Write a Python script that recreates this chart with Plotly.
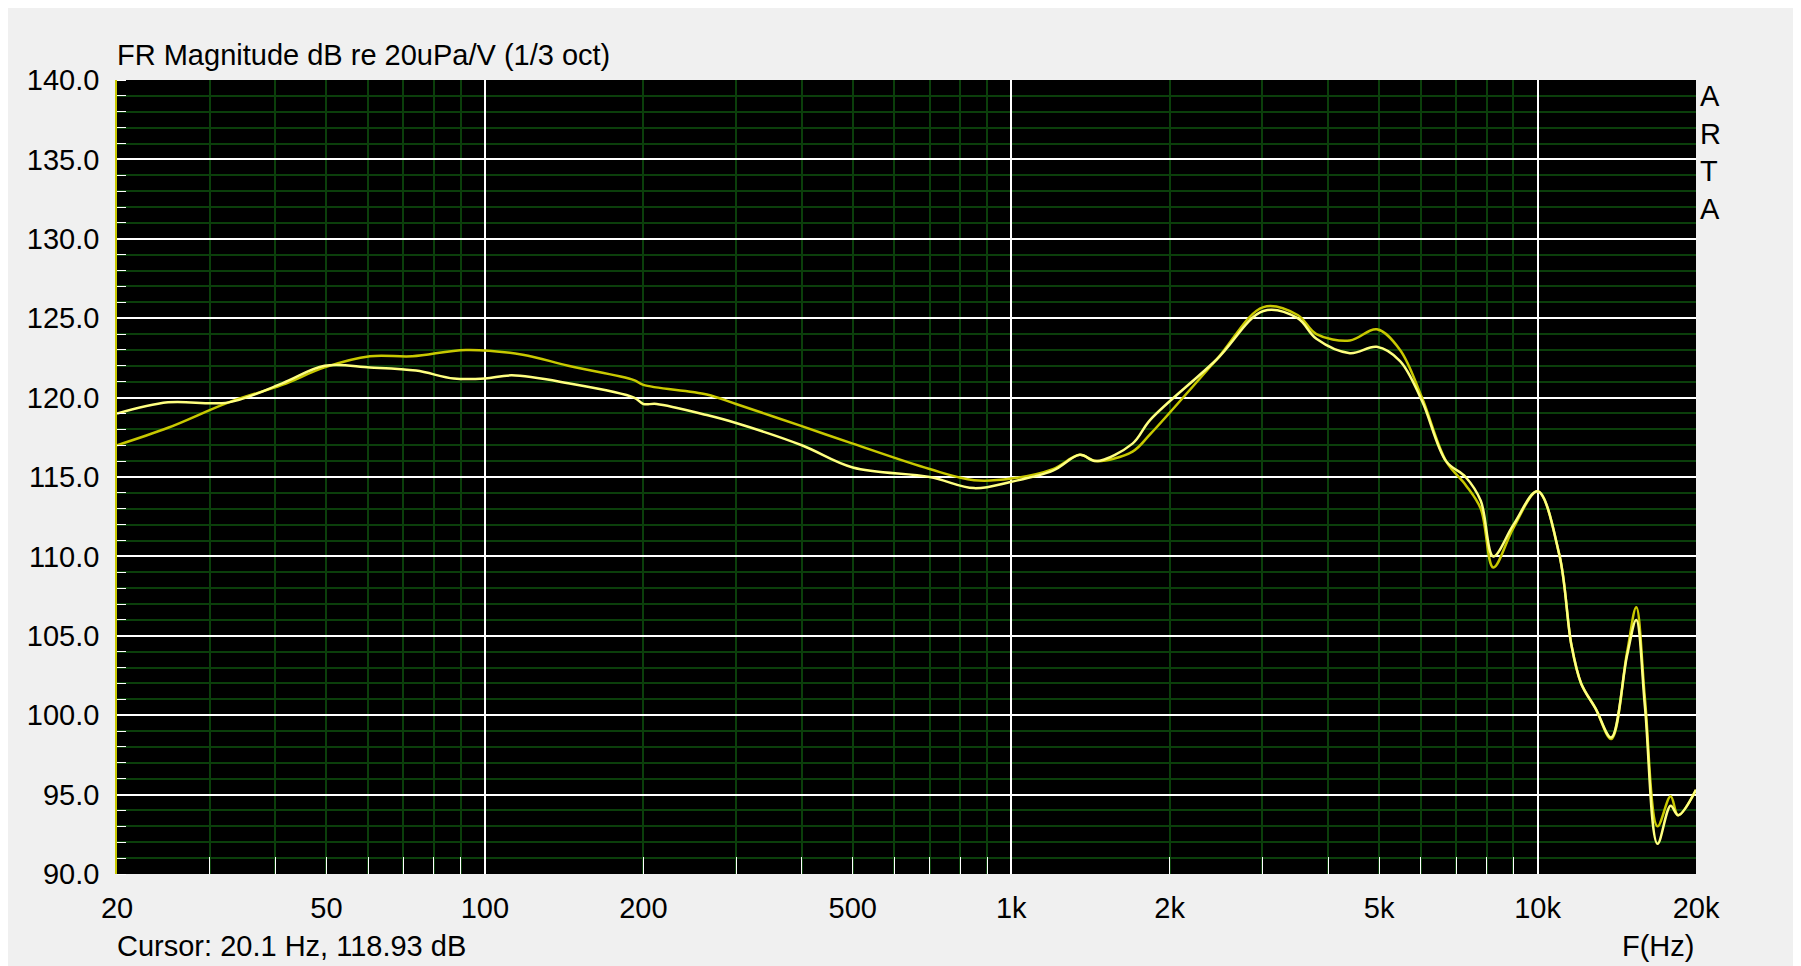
import numpy as np
import plotly.graph_objects as go

# measurement A (darker yellow)
freq_a = [20, 25, 32.6, 41.2, 49.6, 60.5, 72.8, 92, 118, 144, 192, 200, 264, 300, 400, 500,
          700, 850, 1000, 1200, 1350, 1450, 1700, 1837, 2456, 3014, 3500, 3800, 4400, 4950,
          5480, 6030, 6700, 7300, 7800, 8240, 9000, 10000, 11000, 11600, 12100, 12900, 13800,
          14800, 15400, 16000, 16900, 17900, 18500, 20000]
mag_a = [117.0, 118.1, 119.7, 120.8, 121.9, 122.6, 122.6, 123.0, 122.7, 122.0, 121.1, 120.8,
         120.2, 119.6, 118.2, 117.1, 115.5, 114.8, 114.9, 115.5, 116.4, 116.0, 116.6, 117.7,
         122.4, 125.7, 125.2, 124.0, 123.6, 124.3, 123.0, 120.0, 116.0, 114.5, 113.0, 109.3,
         111.8, 114.1, 110.1, 104.4, 102.0, 100.4, 98.5, 104.0, 106.8, 101.0, 93.0, 94.9,
         93.7, 95.3]

# measurement B (pale yellow)
freq_b = [20, 25, 32.6, 41.2, 49.6, 60.5, 74, 87.3, 100, 112.5, 144, 192, 200, 212, 264, 300,
          400, 500, 700, 850, 1000, 1200, 1350, 1450, 1700, 1837, 2456, 3014, 3500, 3800,
          4400, 4950, 5480, 6030, 6700, 7300, 7800, 8240, 9000, 10000, 11000, 11600, 12100,
          12900, 13800, 14800, 15400, 16000, 16900, 17900, 18500, 20000]
mag_b = [119.0, 119.7, 119.7, 120.9, 122.0, 121.9, 121.7, 121.2, 121.2, 121.4, 120.9, 120.0,
         119.6, 119.6, 118.9, 118.4, 117.0, 115.6, 115.0, 114.3, 114.7, 115.4, 116.4, 116.0,
         117.1, 118.6, 122.4, 125.45, 125.0, 123.7, 122.8, 123.2, 122.3, 119.8, 116.0, 115.0,
         113.5, 110.0, 112.0, 114.1, 110.1, 104.4, 102.0, 100.4, 98.6, 103.8, 106.0, 100.5,
         91.9, 94.3, 93.7, 95.3]

x_labels = [20, 50, 100, 200, 500, 1000, 2000, 5000, 10000, 20000]
x_text = ["20", "50", "100", "200", "500", "1k", "2k", "5k", "10k", "20k"]
x_decades = [10, 100, 1000, 10000]
x_digits = [2, 3, 4, 5, 6, 7, 8, 9]
y_major = list(range(90, 141, 5))

x_minor = [d * k for d in x_decades for k in x_digits if 20 < d * k < 20000]

font = dict(family="Liberation Sans, Arial, sans-serif", size=29, color="black")
green = "#0b3f0b"
xr = [np.log10(20), np.log10(20000)]

fig = go.Figure()
fig.add_trace(go.Scatter(x=freq_a, y=mag_a, mode="lines", line=dict(color="#c8c800", width=2.5, shape="spline"),
                         showlegend=False))
fig.add_trace(go.Scatter(x=freq_b, y=mag_b, mode="lines", line=dict(color="#ffff80", width=2.5, shape="spline"),
                         showlegend=False, xaxis="x2"))

ml, mr, mt, mb = 109, 113, 72, 100
fig.update_layout(
    width=1801, height=966,
    margin=dict(l=ml, r=mr, t=mt, b=mb),
    paper_bgcolor="#f0f0f0", plot_bgcolor="black",
    font=font,
    xaxis=dict(type="log", range=xr, tickvals=[100, 1000, 10000], showticklabels=False,
               gridcolor="white", gridwidth=1.5, ticks="inside", ticklen=17, tickcolor="white",
               minor=dict(tickvals=x_minor, showgrid=True, gridcolor=green, gridwidth=1.5,
                          ticks="inside", ticklen=17, tickcolor="white"),
               showline=False, zeroline=False),
    xaxis2=dict(type="log", range=xr, overlaying="x", side="bottom", tickvals=x_labels, ticktext=x_text,
                showgrid=False, ticks="", ticklabelstandoff=14, tickfont=font),
    yaxis=dict(range=[90, 140], tickvals=y_major, ticktext=[f"{v:.1f}" for v in y_major],
               gridcolor="white", gridwidth=1.5, ticks="", ticklabelstandoff=10, tickfont=font,
               minor=dict(dtick=1, showgrid=True, gridcolor=green, gridwidth=1.5,
                          ticks="inside", ticklen=9, tickcolor="white"),
               showline=True, linecolor="#c8c800", linewidth=1.5, zeroline=False),
)

pw, ph = 1801 - ml - mr, 966 - mt - mb
fig.add_annotation(text="FR Magnitude dB re 20uPa/V (1/3 oct)", x=-2 / pw, y=1 + 25 / ph,
                   xref="paper", yref="paper", showarrow=False, font=font, xanchor="left", yanchor="middle")
fig.add_annotation(text="Cursor: 20.1 Hz, 118.93 dB", x=-2 / pw, y=-72 / ph,
                   xref="paper", yref="paper", showarrow=False, font=font, xanchor="left", yanchor="middle")
fig.add_annotation(text="F(Hz)", x=1.0, y=-72 / ph,
                   xref="paper", yref="paper", showarrow=False, font=font, xanchor="right", yanchor="middle")
fig.add_annotation(text="A<br>R<br>T<br>A", x=1 + 2 / pw, y=1 + 2 / ph,
                   xref="paper", yref="paper", showarrow=False, font=font, xanchor="left", yanchor="top",
                   align="left")

fig.write_html("out.html")
